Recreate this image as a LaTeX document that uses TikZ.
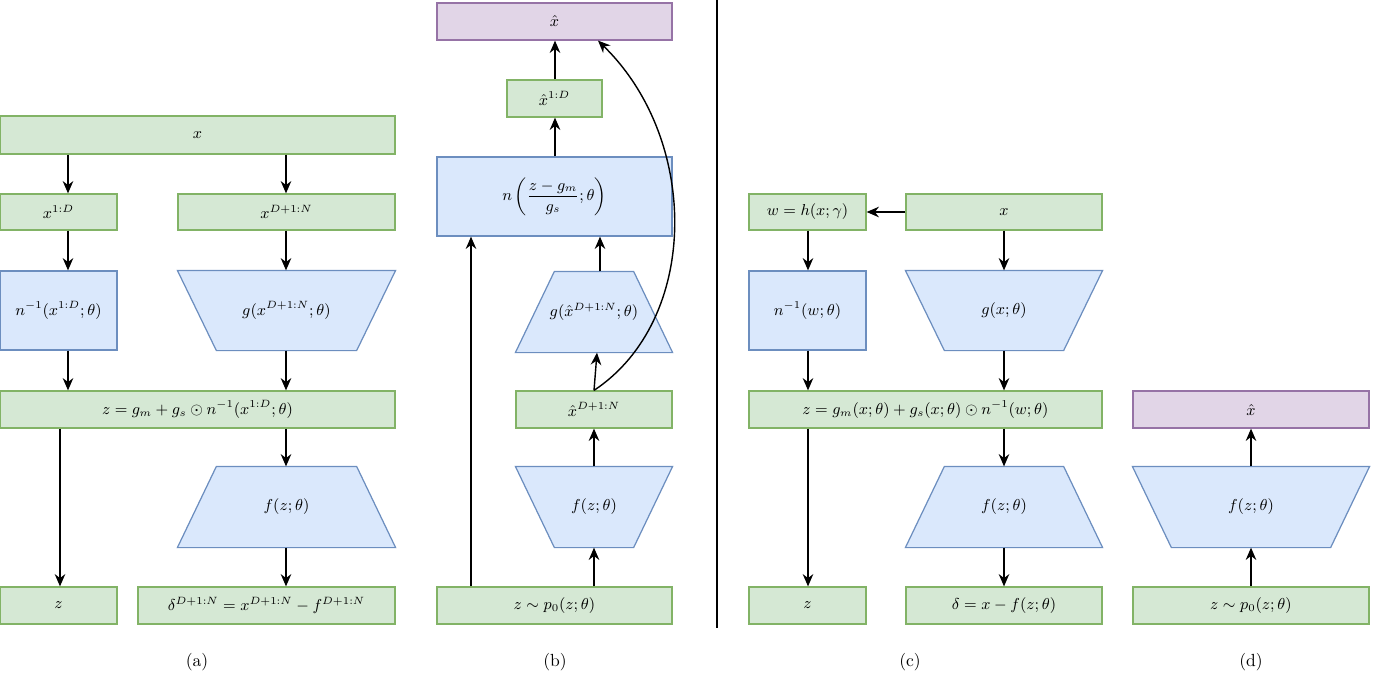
\documentclass[tikz,border=0pt]{standalone}
\usepackage{amsmath}
\usetikzlibrary{fit,arrows.meta}
\definecolor{gfill}{HTML}{D5E8D4}\definecolor{gdraw}{HTML}{82B366}
\definecolor{bfill}{HTML}{DAE8FC}\definecolor{bdraw}{HTML}{6C8EBF}
\definecolor{pfill}{HTML}{E1D5E7}\definecolor{pdraw}{HTML}{9673A6}
\tikzset{
  box/.style={inner sep=0pt, line width=0.7pt},
  gbox/.style={box, draw=gdraw, fill=gfill},
  bbox/.style={box, draw=bdraw, fill=bfill},
  pbox/.style={box, draw=pdraw, fill=pfill},
  tz/.style={box},
  txt/.style={label={[font=\small]center:#1}},
  arr/.style={-{Stealth[length=7pt,width=6pt]}, line width=0.8pt},
}
% trapezium drawn from a fit node: #1 name, #2 = 1 wide top, 0 wide bottom
\newcommand{\trapz}[2]{%
  \ifnum#2=1
    \draw[line width=0.7pt, draw=bdraw, fill=bfill] (#1.north west) -- (#1.north east)
      -- ([xshift=-0.78cm]#1.south east) -- ([xshift=0.78cm]#1.south west) -- cycle;
  \else
    \draw[line width=0.7pt, draw=bdraw, fill=bfill] (#1.south west) -- (#1.south east)
      -- ([xshift=-0.78cm]#1.north east) -- ([xshift=0.78cm]#1.north west) -- cycle;
  \fi}
\begin{document}
\begin{tikzpicture}[x=0.02cm, y=-0.02cm]
\useasboundingbox (0,0) rectangle (1376,677);

% (a)
\node[gbox, fit={(0,116) (395,154)}, txt={$x$}] (ax) {};
\node[gbox, fit={(0,194) (117,230)}, txt={$x^{1:D}$}] (ax1) {};
\node[gbox, fit={(178,194) (395,230)}, txt={$x^{D+1:N}$}] (ax2) {};
\node[bbox, fit={(0,271) (117,350)}, txt={$n^{-1}(x^{1:D};\theta)$}] (an) {};
\node[tz, fit={(178,271) (395,350)}] (ag) {};
\trapz{ag}{1}
\node[font=\small] at (ag) {$g(x^{D+1:N};\theta)$};
\node[gbox, fit={(0,391) (395,428)}, txt={$z = g_m + g_s \odot n^{-1}(x^{1:D};\theta)$}] (az) {};
\node[tz, fit={(178,467) (395,547)}] (af) {};
\trapz{af}{0}
\node[font=\small] at (af) {$f(z;\theta)$};
\node[gbox, fit={(0,587) (117,624)}, txt={$z$}] (azz) {};
\node[gbox, fit={(138,587) (395,624)}, txt={$\delta^{D+1:N} = x^{D+1:N} - f^{D+1:N}$}] (ad) {};
\draw[arr] (ax.south -| 68,0) -- (ax1.north -| 68,0);
\draw[arr] (ax.south -| 286,0) -- (ax2.north -| 286,0);
\draw[arr] (ax1.south -| 68,0) -- (an.north -| 68,0);
\draw[arr] (ax2.south -| 286,0) -- (ag.north -| 286,0);
\draw[arr] (an.south -| 68,0) -- (az.north -| 68,0);
\draw[arr] (ag.south -| 286,0) -- (az.north -| 286,0);
\draw[arr] (az.south -| 60,0) -- (azz.north -| 60,0);
\draw[arr] (az.south -| 286,0) -- (af.north -| 286,0);
\draw[arr] (af.south -| 286,0) -- (ad.north -| 286,0);

% (b)
\node[pbox, fit={(437,3) (672,40)}, txt={$\hat{x}$}] (bxh) {};
\node[gbox, fit={(507,80) (602,117)}, txt={$\hat{x}^{1:D}$}] (bx1) {};
\node[bbox, fit={(437,157) (672,236)}, txt={$n\left(\dfrac{z-g_m}{g_s};\theta\right)$}] (bn) {};
\node[tz, fit={(516,272) (672,352)}] (bg) {};
\trapz{bg}{0}
\node[font=\small] at (bg) {$g(\hat{x}^{D+1:N};\theta)$};
\node[gbox, fit={(516,391) (672,428)}, txt={$\hat{x}^{D+1:N}$}] (bx2) {};
\node[tz, fit={(516,467) (672,547)}] (bf) {};
\trapz{bf}{1}
\node[font=\small] at (bf) {$f(z;\theta)$};
\node[gbox, fit={(437,587) (672,624)}, txt={$z \sim p_0(z;\theta)$}] (bz) {};
\draw[arr] (bz.north -| 594,0) -- (bf.south -| 594,0);
\draw[arr] (bf.north -| 594,0) -- (bx2.south -| 594,0);
\draw[arr] (bx2.north -| 594,0) -- (bg.south -| 597,0);
\draw[arr] (bg.north -| 600,0) -- (bn.south -| 600,0);
\draw[arr] (bn.north -| 555,0) -- (bx1.south -| 555,0);
\draw[arr] (bx1.north -| 555,0) -- (bxh.south -| 555,0);
\draw[arr] (bz.north -| 471,0) -- (bn.south -| 471,0);
\draw[arr] (bx2.north -| 594,0) .. controls (700,320) and (700,140) .. (bxh.south -| 598,0);

\draw[line width=1pt] (717,0) -- (717,628);

% (c)
\node[gbox, fit={(749,194) (866,230)}, txt={$w = h(x;\gamma)$}] (cw) {};
\node[gbox, fit={(906,194) (1102,230)}, txt={$x$}] (cx) {};
\node[bbox, fit={(749,271) (866,350)}, txt={$n^{-1}(w;\theta)$}] (cn) {};
\node[tz, fit={(906,271) (1102,350)}] (cg) {};
\trapz{cg}{1}
\node[font=\small] at (cg) {$g(x;\theta)$};
\node[gbox, fit={(749,391) (1102,428)}, txt={$z = g_m(x;\theta) + g_s(x;\theta) \odot n^{-1}(w;\theta)$}] (cz) {};
\node[tz, fit={(906,467) (1102,547)}] (cf) {};
\trapz{cf}{0}
\node[font=\small] at (cf) {$f(z;\theta)$};
\node[gbox, fit={(749,587) (866,624)}, txt={$z$}] (czz) {};
\node[gbox, fit={(906,587) (1102,624)}, txt={$\delta = x - f(z;\theta)$}] (cd) {};
\draw[arr] (cx.west) -- (cw.east);
\draw[arr] (cw.south -| 808,0) -- (cn.north -| 808,0);
\draw[arr] (cx.south -| 1004,0) -- (cg.north -| 1004,0);
\draw[arr] (cn.south -| 808,0) -- (cz.north -| 808,0);
\draw[arr] (cg.south -| 1004,0) -- (cz.north -| 1004,0);
\draw[arr] (cz.south -| 808,0) -- (czz.north -| 808,0);
\draw[arr] (cz.south -| 1004,0) -- (cf.north -| 1004,0);
\draw[arr] (cf.south -| 1004,0) -- (cd.north -| 1004,0);

% (d)
\node[pbox, fit={(1133,391) (1369,428)}, txt={$\hat{x}$}] (dxh) {};
\node[tz, fit={(1133,467) (1369,547)}] (df) {};
\trapz{df}{1}
\node[font=\small] at (df) {$f(z;\theta)$};
\node[gbox, fit={(1133,587) (1369,624)}, txt={$z \sim p_0(z;\theta)$}] (dz) {};
\draw[arr] (dz.north -| 1251,0) -- (df.south -| 1251,0);
\draw[arr] (df.north -| 1251,0) -- (dxh.south -| 1251,0);

% captions
\node (la) at (197,662) {(a)};
\node (lb) at (555,662) {(b)};
\node (lc) at (910,662) {(c)};
\node (ld) at (1251,662) {(d)};
\end{tikzpicture}
\end{document}
